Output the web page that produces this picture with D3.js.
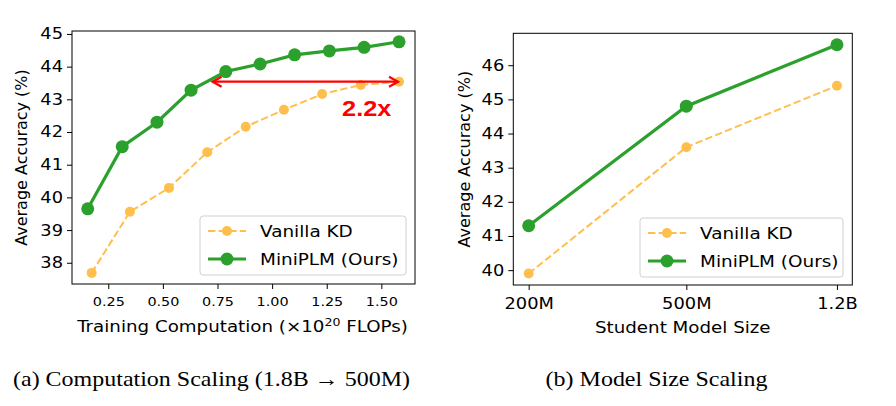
<!DOCTYPE html>
<html>
<head>
<meta charset="utf-8">
<script src="https://cdn.jsdelivr.net/npm/d3@7"></script>
<style>
  body { margin: 0; background: #fff; }
  svg text { font-family: "DejaVu Sans", sans-serif; fill: #000; }
  .caption { font-family: "Liberation Serif", "Times New Roman", serif !important; }
  .domain { display: none; }
</style>
</head>
<body>
<script>
// ---- data ----
var seriesNames = ['Vanilla KD', 'MiniPLM (Ours)'];

// (a) computation scaling, x in 1e20 FLOPs
var kdFlops = [0.174, 0.349, 0.528, 0.703, 0.879, 1.054, 1.229, 1.406, 1.581];
var kdAcc = [37.69, 39.56, 40.29, 41.38, 42.16, 42.68, 43.16, 43.44, 43.54];
var miniFlops = [0.156, 0.314, 0.473, 0.629, 0.788, 0.945, 1.103, 1.262, 1.421, 1.581];
var miniAcc = [39.65, 41.55, 42.30, 43.28, 43.85, 44.08, 44.36, 44.48, 44.59, 44.76];
var flopTicks = [0.25, 0.50, 0.75, 1.00, 1.25, 1.50];
var accTicksA = [38, 39, 40, 41, 42, 43, 44, 45];
// speed-up arrow
var arrowFrom = 0.723, arrowTo = 1.581, arrowAcc = 43.54;
var arrowText = '2.2x';

// (b) model size scaling
var sizes = [200, 500, 1200];
var sizeLabels = ['200M', '500M', '1.2B'];
var kdSizeAcc = [39.9, 43.6, 45.4];
var miniSizeAcc = [41.3, 44.8, 46.6];
var accTicksB = [40, 41, 42, 43, 44, 45, 46];

var captions = ['(a) Computation Scaling (1.8B \u2192 500M)', '(b) Model Size Scaling'];

var green = '#2ca02c';
var orange = '#ffbf4d';

var svg = d3.select('body').append('svg')
  .attr('width', 896)
  .attr('height', 406);

svg.append('rect').attr('width', 896).attr('height', 406).attr('fill', '#fff');

// the reference's lettering is a bit wider than DejaVu, so widen text
function stretch(sel, k) {
  sel.each(function() {
    var w = this.getComputedTextLength();
    this.setAttribute('textLength', w * k);
    this.setAttribute('lengthAdjust', 'spacingAndGlyphs');
  });
}

// Draws one panel: frame, axes, lines and legend
function panel(opt) {
  var g = svg.append('g');
  var x = opt.x, y = opt.y;
  var x0 = x.range()[0], x1 = x.range()[1];
  var y0 = y.range()[1], y1 = y.range()[0];

  // y axis
  var ya = g.append('g')
    .attr('transform', 'translate(' + x0 + ',0)')
    .call(d3.axisLeft(y).tickValues(opt.yTicks).tickSize(5).tickPadding(4).tickFormat(d3.format('d')));
  ya.selectAll('text').style('font-size', '15.5px');
  stretch(ya.selectAll('text'), 1.15);

  // x axis
  var xa = g.append('g')
    .attr('transform', 'translate(0,' + y1 + ')')
    .call(d3.axisBottom(x).tickValues(opt.xTicks).tickSize(5).tickPadding(opt.xPad).tickFormat(opt.xFormat));
  xa.selectAll('text').style('font-size', opt.xFont);
  stretch(xa.selectAll('text'), 1.15);
  g.selectAll('.tick line').attr('stroke', '#000').attr('stroke-width', 1);

  var line = d3.line().x(function(d) { return x(d[0]); }).y(function(d) { return y(d[1]); });

  // Vanilla KD (dashed)
  var kd = d3.zip(opt.kdX, opt.kdY);
  g.append('path').datum(kd)
    .attr('d', line)
    .attr('fill', 'none')
    .attr('stroke', orange)
    .attr('stroke-width', 2)
    .attr('stroke-dasharray', '7.4,3.2');
  g.selectAll('circle.kd').data(kd).enter().append('circle')
    .attr('class', 'kd')
    .attr('cx', function(d) { return x(d[0]); })
    .attr('cy', function(d) { return y(d[1]); })
    .attr('r', 5)
    .attr('fill', orange);

  // MiniPLM (solid)
  var mini = d3.zip(opt.miniX, opt.miniY);
  g.append('path').datum(mini)
    .attr('d', line)
    .attr('fill', 'none')
    .attr('stroke', green)
    .attr('stroke-width', 3.2);
  g.selectAll('circle.mini').data(mini).enter().append('circle')
    .attr('class', 'mini')
    .attr('cx', function(d) { return x(d[0]); })
    .attr('cy', function(d) { return y(d[1]); })
    .attr('r', 6.5)
    .attr('fill', green);

  // frame
  g.append('rect')
    .attr('x', x0).attr('y', y0)
    .attr('width', x1 - x0).attr('height', y1 - y0)
    .attr('fill', 'none').attr('stroke', '#000').attr('stroke-width', 1);

  // axis titles
  var xl = g.append('text')
    .attr('x', (x0 + x1) / 2 + opt.xLabelShift)
    .attr('y', y1 + opt.xLabelDy)
    .attr('text-anchor', 'middle')
    .style('font-size', '16px');
  opt.xLabel(xl);
  stretch(xl, 1.14);

  g.append('text')
    .attr('transform', 'translate(' + (x0 - opt.yLabelDx) + ',' + ((y0 + y1) / 2) + ') rotate(-90)')
    .attr('text-anchor', 'middle')
    .style('font-size', '16px')
    .text('Average Accuracy (%)');

  // legend
  var lx = opt.legend[0], ly = opt.legend[1];
  g.append('rect')
    .attr('x', lx).attr('y', ly)
    .attr('width', opt.legend[2]).attr('height', 59)
    .attr('rx', 3)
    .attr('fill', '#fff').attr('fill-opacity', 0.85)
    .attr('stroke', '#d0d0d0').attr('stroke-width', 1);
  var items = g.selectAll('g.leg').data(seriesNames).enter().append('g')
    .attr('class', 'leg')
    .attr('transform', function(d, i) { return 'translate(' + lx + ',' + (ly + 15 + i * 28) + ')'; });
  items.append('line')
    .attr('x1', 8).attr('x2', 46)
    .attr('stroke', function(d, i) { return i ? green : orange; })
    .attr('stroke-width', function(d, i) { return i ? 3.2 : 2; })
    .attr('stroke-dasharray', function(d, i) { return i ? null : '7.4,3.2'; });
  items.append('circle')
    .attr('cx', 27).attr('r', function(d, i) { return i ? 6.5 : 5; })
    .attr('fill', function(d, i) { return i ? green : orange; });
  var lt = items.append('text')
    .attr('x', 60).attr('dy', '0.36em')
    .style('font-size', '16px')
    .text(function(d) { return d; });
  stretch(lt, 1.15);

  return g;
}

// ---- (a) ----
var xA = d3.scaleLinear().domain([0.084, 1.654]).range([72, 415]);
var yA = d3.scaleLinear().domain([37.35, 45.09]).range([284, 31]);
var gA = panel({
  x: xA, y: yA,
  yTicks: accTicksA, xTicks: flopTicks,
  xFormat: d3.format('.2f'), xFont: '12.5px', xPad: 8,
  kdX: kdFlops, kdY: kdAcc, miniX: miniFlops, miniY: miniAcc,
  xLabelShift: -1, xLabelDy: 48, yLabelDx: 45,
  xLabel: function(t) {
    t.append('tspan').text('Training Computation (\u00d710');
    t.append('tspan').attr('dy', -6).style('font-size', '11px').text('20');
    t.append('tspan').attr('dy', 6).text(' FLOPs)');
  },
  legend: [200, 216, 206]
});

// arrow
var ay = yA(arrowAcc);
var ax0 = xA(arrowFrom), ax1 = xA(arrowTo);
gA.append('line')
  .attr('x1', ax0 + 1).attr('x2', ax1 - 1)
  .attr('y1', ay).attr('y2', ay)
  .attr('stroke', '#ff0000').attr('stroke-width', 2.2);
gA.append('path')
  .attr('d', 'M' + (ax0 + 10) + ',' + (ay - 5) + 'L' + (ax0 + 1) + ',' + ay + 'L' + (ax0 + 10) + ',' + (ay + 5) +
    'M' + (ax1 - 10) + ',' + (ay - 5) + 'L' + (ax1 - 1) + ',' + ay + 'L' + (ax1 - 10) + ',' + (ay + 5))
  .attr('fill', 'none').attr('stroke', '#ff0000').attr('stroke-width', 2.2);
var at = gA.append('text')
  .attr('x', xA(1.433)).attr('y', yA(42.5))
  .attr('text-anchor', 'middle')
  .style('font-size', '22px').style('font-weight', 'bold')
  .style('font-family', '"Liberation Sans", Arial, sans-serif')
  .style('fill', '#ff0000')
  .text(arrowText);
stretch(at, 1.15);

// ---- (b) ----
var xB = d3.scaleLog().domain([182.9, 1312]).range([513.3, 852.3]);
var yB = d3.scaleLinear().domain([39.565, 46.935]).range([285, 33.3]);
panel({
  x: xB, y: yB,
  yTicks: accTicksB, xTicks: sizes,
  xFormat: function(d, i) { return sizeLabels[i]; }, xFont: '15.5px', xPad: 8,
  kdX: sizes, kdY: kdSizeAcc, miniX: sizes, miniY: miniSizeAcc,
  xLabelShift: 0, xLabelDy: 48, yLabelDx: 43,
  xLabel: function(t) { t.text('Student Model Size'); },
  legend: [640, 218, 203]
});

// captions
var cap = svg.selectAll('text.caption').data(captions).enter().append('text')
  .attr('class', 'caption')
  .attr('x', function(d, i) { return i ? 656.5 : 211.5; })
  .attr('y', 386)
  .attr('text-anchor', 'middle')
  .style('font-size', '22px')
  .text(function(d) { return d; });
stretch(cap, 1.09);
</script>
</body>
</html>
